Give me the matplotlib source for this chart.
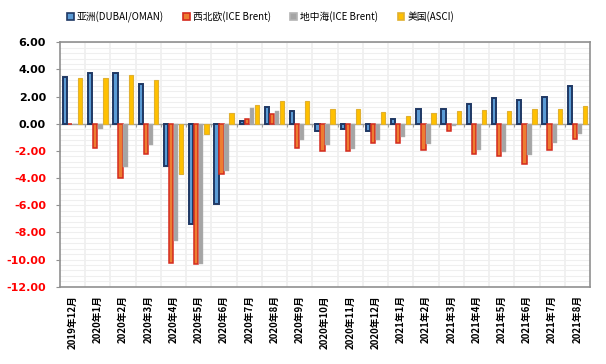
import numpy as np
import matplotlib
matplotlib.use("Agg")
import matplotlib.pyplot as plt
from matplotlib.patches import Patch
from matplotlib.ticker import MultipleLocator

plt.rcParams['font.family'] = ['Noto Sans CJK SC', 'DejaVu Sans']

months = ['2019年12月', '2020年1月', '2020年2月', '2020年3月', '2020年4月', '2020年5月',
          '2020年6月', '2020年7月', '2020年8月', '2020年9月', '2020年10月', '2020年11月',
          '2020年12月', '2021年1月', '2021年2月', '2021年3月', '2021年4月', '2021年5月',
          '2021年6月', '2021年7月', '2021年8月']

asia = [3.41, 3.71, 3.71, 2.93, -3.10, -7.36, -5.90, 0.24, 1.26, 0.96, -0.50, -0.42,
        -0.50, 0.37, 1.06, 1.06, 1.48, 1.87, 1.78, 1.97, 2.76]
nw_europe = [-0.05, -1.81, -4.03, -2.20, -10.25, -10.30, -3.68, 0.32, 0.74, -1.78, -2.00, -2.00,
             -1.41, -1.41, -1.90, -0.50, -2.20, -2.40, -2.94, -1.90, -1.11]
med = [-0.02, -0.35, -3.22, -1.57, -8.60, -10.30, -3.50, 1.18, 0.91, -1.16, -1.58, -1.85,
       -1.16, -0.96, -1.48, -0.18, -1.90, -2.10, -2.30, -1.41, -0.77]
usa = [3.37, 3.34, 3.56, 3.25, -3.73, -0.72, 0.79, 1.38, 1.70, 1.70, 1.06, 1.06,
       0.86, 0.59, 0.79, 0.91, 1.01, 0.91, 1.11, 1.11, 1.30]

series_names = ['亚洲(DUBAI/OMAN)', '西北欧(ICE Brent)', '地中海(ICE Brent)', '美国(ASCI)']
faces = ['#5B9BD5', '#ED7D31', '#A5A5A5', '#FFC000']
edges = ['#1F3864', '#D42A1E', '#B4B4B4', '#E0B030']
lws = [1.4, 1.1, 0.3, 0.8]

fig = plt.figure(figsize=(6.06, 3.64), dpi=100)
ax = fig.add_axes([0.099, 0.2124, 0.8746, 0.6714])

x = np.arange(len(months))
w = 0.2
for i, vals in enumerate([asia, nw_europe, med, usa]):
    ax.bar(x + (i - 1.5) * w, vals, w * 0.85, color=faces[i], edgecolor=edges[i],
           linewidth=lws[i], zorder=3)

ax.set_xlim(-0.5, len(months) - 0.5)
ax.set_ylim(-12, 6)
ax.yaxis.set_major_locator(MultipleLocator(2))
ax.yaxis.set_minor_locator(MultipleLocator(0.4))
ax.grid(which='both', axis='y', color='#EFEFEF', lw=0.8, zorder=0)
for b in np.arange(0.5, len(months) - 1, 1):
    ax.axvline(b, color='#EFEFEF', lw=1.2, zorder=0)

ax.axhline(0, color='#A0A0A0', lw=1.0, zorder=2)
ax.vlines(np.arange(0.5, len(months) - 1, 1), -0.25, 0, color='#A0A0A0', lw=0.8, zorder=2)

for s in ax.spines.values():
    s.set_color('#909090')
    s.set_linewidth(1.2)

ax.set_xticks(x)
ax.set_xticklabels(months, rotation=90, fontsize=7, fontweight='bold')
ax.tick_params(axis='x', length=0, pad=6)
ax.tick_params(axis='y', which='major', length=3, color='#909090', labelsize=8, pad=7)
ax.tick_params(axis='y', which='minor', length=0)
yt = np.arange(-12, 7, 2)
ax.set_yticks(yt)
ax.set_yticklabels(['%.2f' % v for v in yt], fontweight='bold', family='DejaVu Sans')
for lab, v in zip(ax.get_yticklabels(), yt):
    lab.set_color('red' if v < 0 else 'black')

handles = [Patch(facecolor=faces[i], edgecolor=edges[i], linewidth=1.2) for i in range(4)]
fig.legend(handles, series_names, loc='center', bbox_to_anchor=(0.43, 0.953), ncol=4,
           frameon=False, fontsize=7, handlelength=0.7, handleheight=0.7,
           handletextpad=0.3, columnspacing=2.0)

fig.savefig('out.png', dpi=100)
